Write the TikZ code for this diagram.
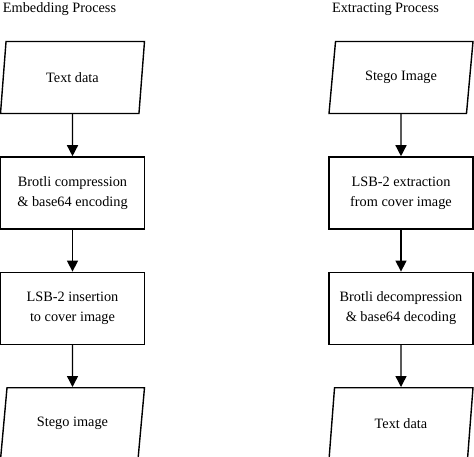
\documentclass[tikz,border=0pt]{standalone}
\usepackage{fontspec}
\setmainfont{Liberation Serif}
\usetikzlibrary{arrows.meta,positioning,shapes.geometric}

\begin{document}
\begin{tikzpicture}[
  x=1pt, y=1pt,
  every node/.style={font=\fontsize{14.3}{20}\selectfont},
  proc/.style={draw, line width=1.4pt, minimum width=144pt,
    minimum height=72pt, align=center, inner sep=2pt},
  io/.style={draw, line width=1.4pt, trapezium, trapezium left angle=68.5,
    trapezium right angle=111.5, trapezium stretches body,
    minimum width=144pt, minimum height=72pt, align=center, inner sep=2pt},
  arr/.style={-{Triangle[length=11pt,width=11pt]}, line width=1.4pt},
  title/.style={inner sep=0pt, anchor=base},
]
  \useasboundingbox (0,0) rectangle (474,-457);

  % embedding side
  \node[title] (embt) at (59.5,-12.5) {Embedding Process};
  \node[io] (txtin) at (72.5,-77.5) {Text data};
  \node[proc, below=42pt of txtin] (comp)
    {Brotli compression\\\& base64 encoding};
  \node[proc, below=42pt of comp] (ins)
    {LSB-2 insertion\\to cover image};
  \node[io, below=42pt of ins] (stout) {Stego image};

  \draw[arr] (txtin) -- (comp);
  \draw[arr] (comp) -- (ins);
  \draw[arr] (ins) -- (stout);

  % extracting side
  \node[title] (extt) at (385.5,-12.5) {Extracting Process};
  \node[io] (stin) at (401,-77.5) {Stego Image};
  \node[proc, below=42pt of stin] (ext)
    {LSB-2 extraction\\from cover image};
  \node[proc, below=42pt of ext] (dec)
    {Brotli decompression\\\& base64 decoding};
  \node[io, below=42pt of dec] (txtout) {Text data};

  \draw[arr] (stin) -- (ext);
  \draw[arr] (ext) -- (dec);
  \draw[arr] (dec) -- (txtout);
\end{tikzpicture}
\end{document}
